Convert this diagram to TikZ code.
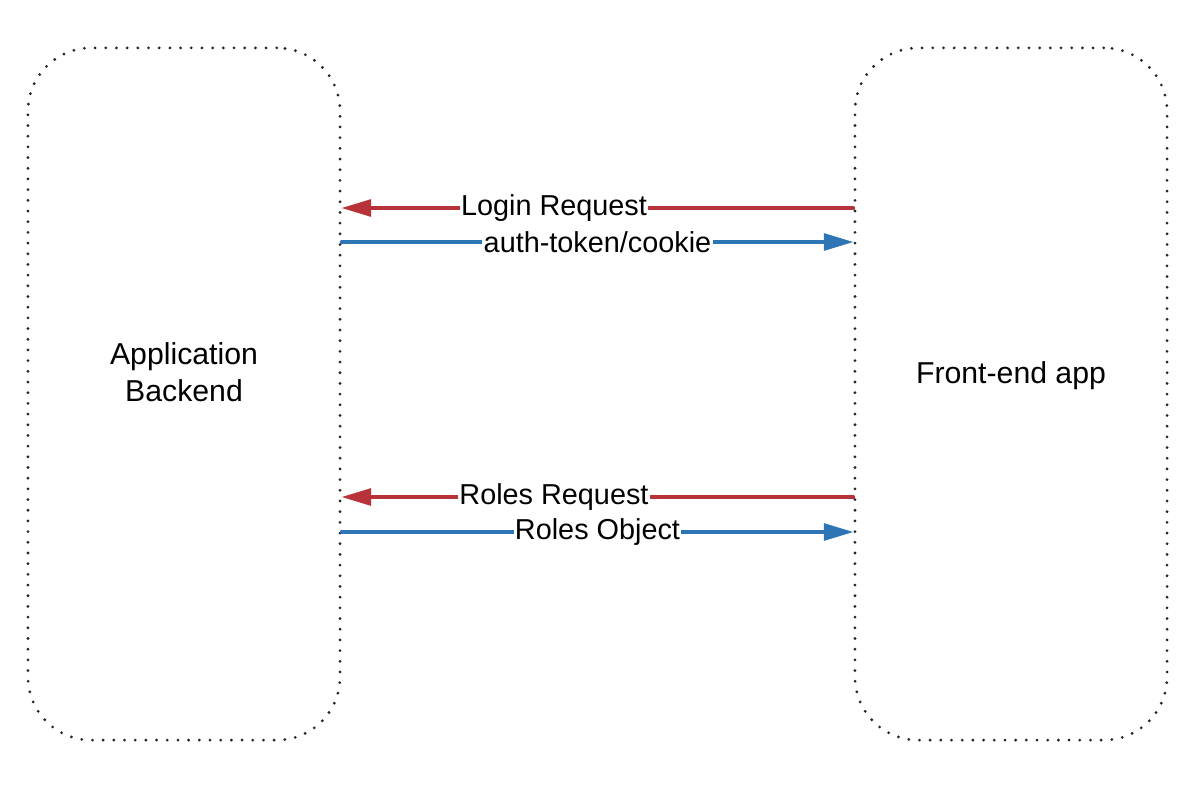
\documentclass[tikz,border=0pt]{standalone}
\usepackage{fontspec}
\setmainfont{Liberation Sans}
\usetikzlibrary{arrows.meta,positioning}
\definecolor{reqred}{RGB}{184,50,57}
\definecolor{resblue}{RGB}{46,117,182}
\tikzset{
  party/.style={draw=black!85,line width=2.2pt,dash pattern=on 0pt off 7.6pt,line cap=round,
    rounded corners=45pt,minimum width=7.8cm,minimum height=17.3cm},
  partyname/.style={align=center,font=\fontsize{21.5}{26}\selectfont},
  msg/.style={line width=2.3pt,-{Triangle[length=21pt,width=12pt]}},
  lbl/.style={fill=white,inner sep=1pt,text=black,font=\fontsize{20.5}{24}\selectfont}
}
\begin{document}
\begin{tikzpicture}[line cap=round,line join=round,x=0.025cm,y=-0.025cm]
  \useasboundingbox (0,0) rectangle (1200,805);
  % the two parties
  \node[party] (back) at (184,394) {};
  \node[party] (front) at (1011,394) {};
  \node[partyname] (backname) at (184,372) {Application\\Backend};
  \node[partyname] (frontname) at (1011,376) {Front-end app};
  % arrow end points
  \coordinate (b1) at (back.east |- 0,208);
  \coordinate (f1) at (front.west |- 0,208);
  \coordinate (b2) at (back.east |- 0,242);
  \coordinate (f2) at (front.west |- 0,242);
  \coordinate (b3) at (back.east |- 0,497);
  \coordinate (f3) at (front.west |- 0,497);
  \coordinate (b4) at (back.east |- 0,532);
  \coordinate (f4) at (front.west |- 0,532);
  % messages
  \draw[msg,reqred] (f1) -- node[lbl,pos=0.585] {Login Request} (b1);
  \draw[msg,resblue] (b2) -- node[lbl,pos=0.5] {auth-token/cookie} (f2);
  \draw[msg,reqred] (f3) -- node[lbl,pos=0.585] {Roles Request} (b3);
  \draw[msg,resblue] (b4) -- node[lbl,pos=0.5] {Roles Object} (f4);
\end{tikzpicture}
\end{document}
